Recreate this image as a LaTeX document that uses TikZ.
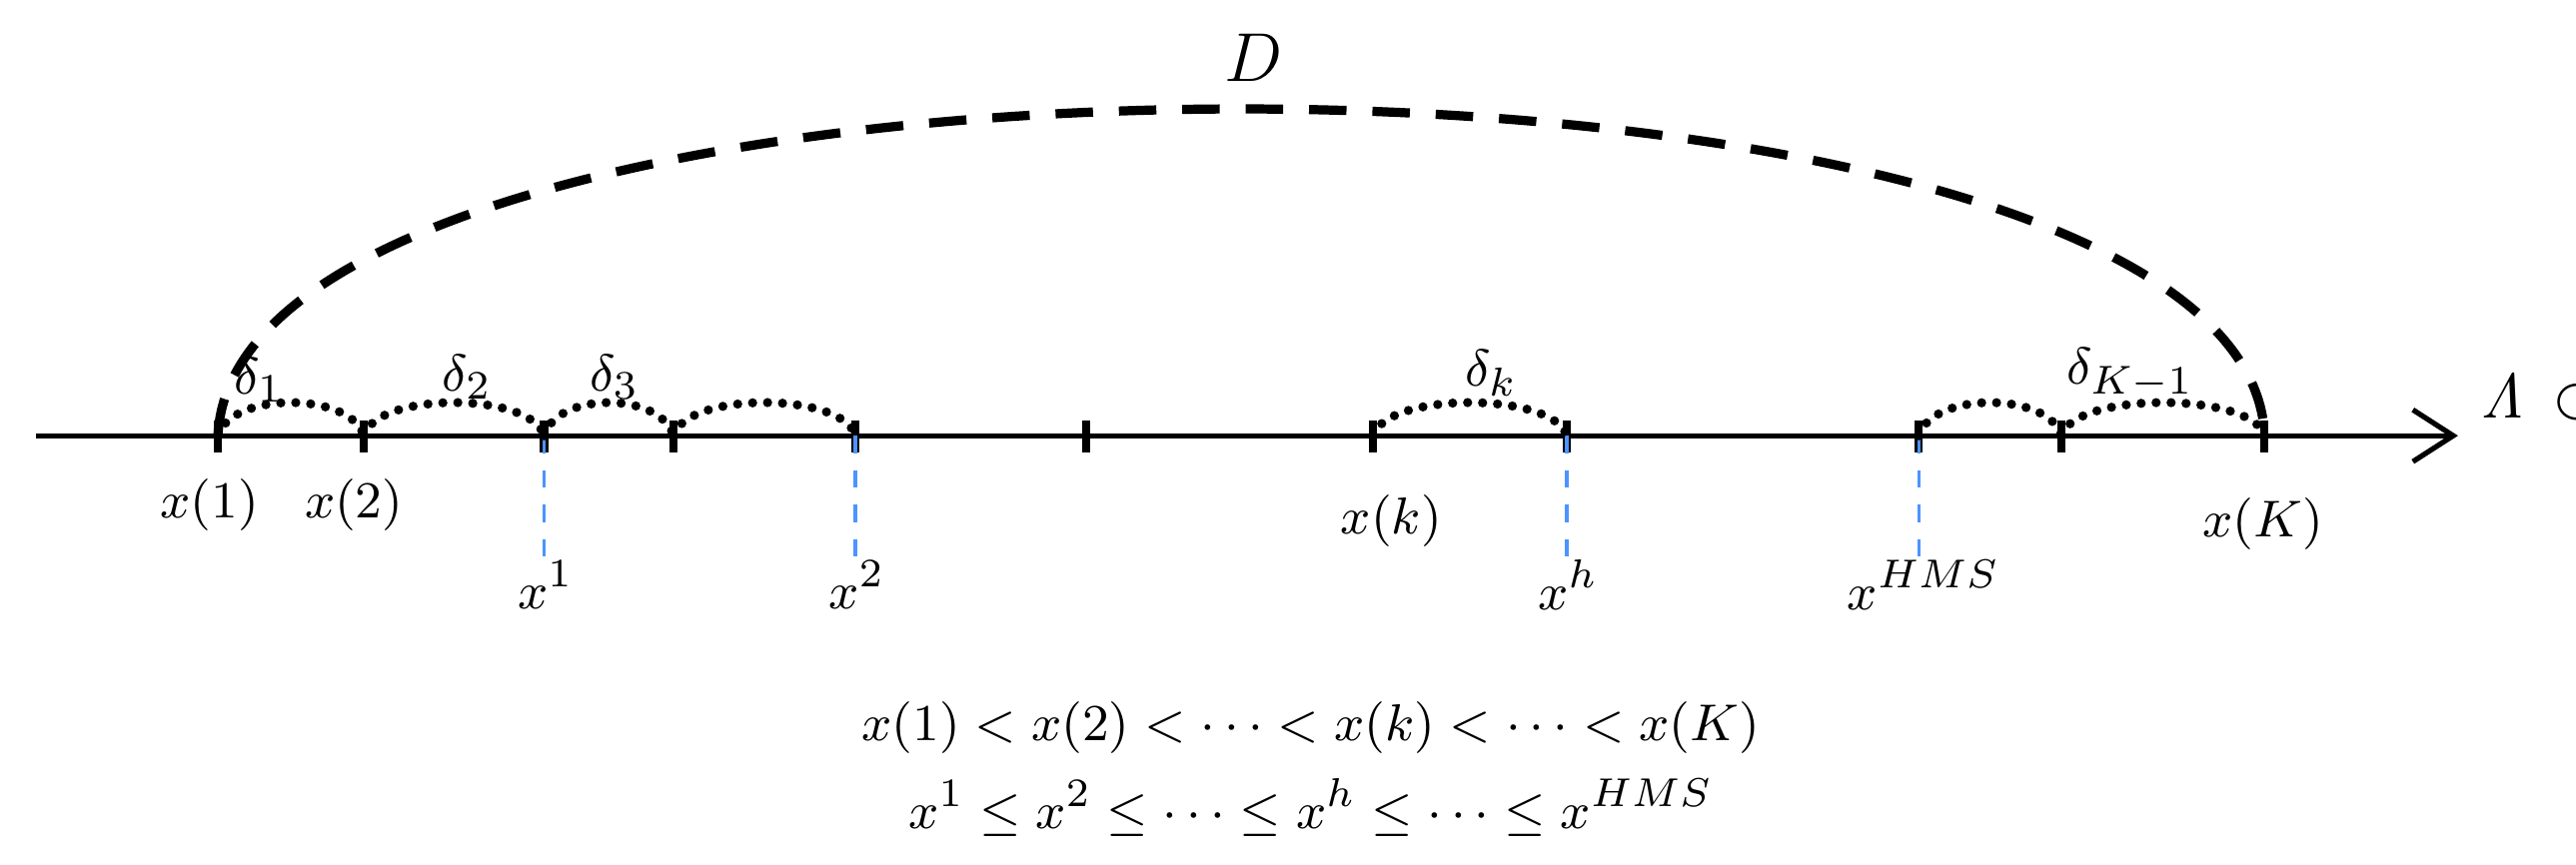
\documentclass[tikz,border=0pt]{standalone}
\usetikzlibrary{arrows.meta,calc}
\begin{document}
\begin{tikzpicture}[x=0.01cm,y=-0.01cm,
  tck/.style={line width=1.4pt},
  dotarc/.style={line width=1.6pt,dash pattern=on 0pt off 2.6pt,line cap=round},
  blu/.style={draw=blue!60!cyan!70!white,dashed,line width=0.6pt},
  lab/.style={font=\fontsize{9.5}{11}\selectfont,inner sep=1pt}]
\useasboundingbox (0,0) rectangle (1572,528);
\draw[line width=0.9pt,-{Straight Barb[length=7pt,width=9pt]}] (22,266) -- (1500,266) coordinate (aend);
\foreach \n/\x in {a/133,b/222,c/332,d/411,e/522,f/663,g/838,h/956,i/1171,j/1258,k/1382}{
  \coordinate (\n) at (\x,266);
  \draw[tck] (\x,257) -- (\x,276);
}
\foreach \n in {c,e,h,i}{ \draw[blu] (\n) -- ++(0,76) coordinate (\n b); }
\foreach \p/\q in {a/b,b/c,c/d,d/e,g/h,i/j,j/k}{
  \draw[dotarc] (\p) .. controls ($(\p)+(8,-27)$) and ($(\q)+(-8,-27)$) .. (\q);
}
\draw[line width=1.6pt,dash pattern=on 6.5pt off 4.5pt] (a) .. controls (145,0) and (1370,0) .. (k);
\node[lab] at (158,232) {$\delta_1$};
\node[lab] at (285,230) {$\delta_2$};
\node[lab] at (375,230) {$\delta_3$};
\node[lab] at (910,228) {$\delta_k$};
\node[lab] at (1300,228) {$\delta_{K-1}$};
\node[font=\fontsize{12}{14}\selectfont] at (765,35) {$D$};
\node[font=\fontsize{11}{13}\selectfont,anchor=west,inner sep=0pt] at (1513,240) {$\mathit{\Lambda}\,\subset R^1$};
\node[lab] at (128,308) {$x(1)$};
\node[lab] at (216,308) {$x(2)$};
\node[lab] at (849,318) {$x(k)$};
\node[lab] at (1381,320) {$x(K)$};
\node[lab] at (333,357) {$x^1$};
\node[lab] at (523,357) {$x^2$};
\node[lab] at (957,357) {$x^h$};
\node[lab] at (1174,357) {$x^{HMS}$};
\node[lab] at (800,444) {$x(1)<x(2)<\cdots<x(k)<\cdots<x(K)$};
\node[lab] at (800,493) {$x^1\le x^2\le\cdots\le x^h\le\cdots\le x^{HMS}$};
\end{tikzpicture}
\end{document}
